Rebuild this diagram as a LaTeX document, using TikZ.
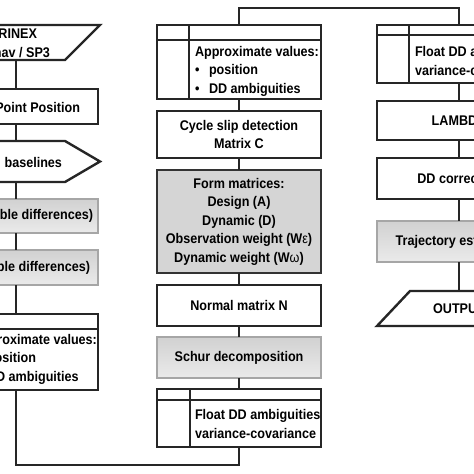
\documentclass[tikz,border=0pt]{standalone}
\usepackage{fontspec}
\setmainfont{Liberation Sans}[FakeStretch=0.9]
\begin{document}
\begin{tikzpicture}[x=1pt,y=-1pt,
  every node/.style={font=\bfseries\fontsize{14}{18.5}\selectfont, inner sep=0pt, outer sep=0pt},
  box/.style={draw=black!85, line width=2.4pt, fill=white, minimum width=164pt},
  graybox/.style={draw=gray!70, line width=2.4pt, top color=gray!36, bottom color=gray!16, minimum width=164pt},
  formbox/.style={draw=black!80, line width=2.4pt, fill=gray!33, minimum width=164pt},
  shapeline/.style={draw=black!85, line width=2.4pt},
  link/.style={draw=black!85, line width=2.4pt},
  lefttxt/.style={align=left, anchor=west}
]
\useasboundingbox (0,0) rectangle (474,474);
\fill[white] (0,0) rectangle (474,474);
\clip (0,0) rectangle (474,474);

% ---------------- left column (cut at the left edge)
\draw[shapeline, fill=white] (-70,25) -- (100,25) -- (65,60) -- (-105,60) -- cycle;
\node[anchor=east] (rinex) at (37,34) {RINEX};
\node[anchor=east] (nav) at (50,53) {nav / SP3};
\coordinate (inpB) at (16,60);

\node[box, minimum height=35pt] (spp) at (16,106.5) {};
\node[anchor=east] (spptxt) at (80,107) {Point Position};

\draw[shapeline, fill=white] (-70,141) -- (65,141) -- (100,161.5) -- (65,182) -- (-70,182) -- cycle;
\coordinate (hexT) at (16,141);
\coordinate (hexB) at (16,182);
\node[anchor=east] (hextxt) at (62,162) {baselines};

\node[graybox, minimum height=34pt] (dd) at (16,216) {};
\node[anchor=east] (ddtxt) at (93,216) {ble differences)};

\node[graybox, minimum height=35pt] (tp) at (16,267.5) {};
\node[anchor=east] (tptxt) at (90,267.5) {ple differences)};

\node[box, minimum height=76pt] (lhdr) at (16,352) {};
\draw[shapeline] (-66,329) -- (98,329);
\draw[shapeline] (-34,314) -- (-34,390);
\node[lefttxt] (lhdrtxt) at (-27,359) {Approximate values:\\\makebox[14pt][l]{\textbullet}position\\\makebox[14pt][l]{\textbullet}DD ambiguities};

\draw[link] (inpB) -- (spp.north);
\draw[link] (spp.south) -- (hexT);
\draw[link] (hexB) -- (dd.north);
\draw[link] (dd.south) -- (tp.north);
\draw[link] (tp.south) -- (lhdr.north);

% ---------------- middle column
\node[box, minimum height=74pt] (apx) at (239,62) {};
\draw[shapeline] (157,40) -- (321,40);
\draw[shapeline] (189,25) -- (189,99);
\node[lefttxt] (apxtxt) at (195,71) {Approximate values:\\\makebox[14pt][l]{\textbullet}position\\\makebox[14pt][l]{\textbullet}DD ambiguities};

\node[box, minimum height=47pt, align=center] (cyc) at (239,134.5) {Cycle slip detection\\Matrix C};
\node[formbox, minimum height=103pt, align=center] (form) at (239,221.5) {Form matrices:\\Design (A)\\Dynamic (D)\\Observation weight (W{\mdseries ε})\\Dynamic weight (W{\mdseries ω})};
\node[box, minimum height=41pt] (nrm) at (239,305.5) {Normal matrix N};
\node[graybox, minimum height=41pt] (schur) at (239,357.5) {Schur decomposition};

\node[box, minimum height=58pt] (fdd) at (239,418) {};
\draw[shapeline] (157,400) -- (321,400);
\draw[shapeline] (190,389) -- (190,447);
\node[lefttxt] (fddtxt) at (195,424) {Float DD ambiguities\\variance-covariance};

\draw[link] (apx.south) -- (cyc.north);
\draw[link] (cyc.south) -- (form.north);
\draw[link] (form.south) -- (nrm.north);
\draw[link] (nrm.south) -- (schur.north);
\draw[link] (schur.south) -- (fdd.north);

% ---------------- right column (cut at the right edge)
\node[box, minimum height=58pt] (rhdr) at (459,54) {};
\draw[shapeline] (377,35) -- (541,35);
\draw[shapeline] (409,25) -- (409,83);
\node[lefttxt] (rhdrtxt) at (415,61) {Float DD ambiguities\\variance-covariance};

\node[box, minimum height=39pt] (lam) at (459,120.5) {LAMBDA};
\node[box, minimum height=41pt] (ddc) at (459,178.5) {DD correction};
\node[graybox, minimum height=41pt] (traj) at (459,241.5) {Trajectory estimation};
\draw[shapeline, fill=white] (410,291) -- (560,291) -- (527,326) -- (377,326) -- cycle;
\coordinate (outT) at (459,291);
\node (outtxt) at (459,309) {OUTPUT};

\draw[link] (rhdr.south) -- (lam.north);
\draw[link] (lam.south) -- (ddc.north);
\draw[link] (ddc.south) -- (traj.north);
\draw[link] (traj.south) -- (outT);

% ---------------- long connectors
\coordinate (topc) at (350,8);
\coordinate (botc) at (128,465);
\draw[link] (apx.north) |- (topc) -| (rhdr.north);
\draw[link] (fdd.south) |- (botc) -| (lhdr.south);
\end{tikzpicture}
\end{document}
